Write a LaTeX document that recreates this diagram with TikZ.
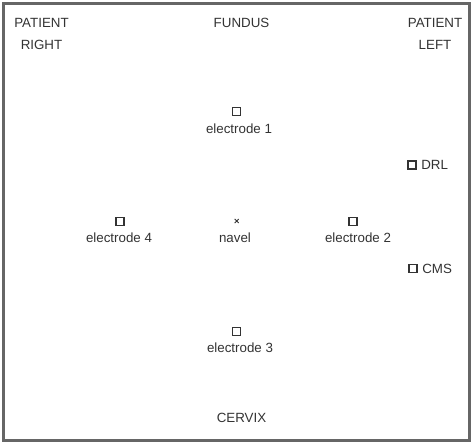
\documentclass[tikz,border=0pt]{standalone}
\usepackage{fontspec}
\setmainfont{Liberation Sans}
\begin{document}
\begin{tikzpicture}[x=0.75pt,y=-0.75pt,
  lbl/.style={inner sep=0pt,text=black!80,font=\fontsize{10}{12}\selectfont},
  elec/.style={draw=black!80,line width=0.8pt,minimum size=6pt,inner sep=0pt}]
\useasboundingbox (0,0) rectangle (474,445);
\fill[white] (0,0) rectangle (474,445);
\draw[black!60,line width=1.6pt] (3.5,3.5) rectangle (469.5,440.5);
% corner labels
\node[lbl] (prA) at (41.5,23) {PATIENT};
\node[lbl] (prB) at (41.5,45) {RIGHT};
\node[lbl] (plA) at (435,23) {PATIENT};
\node[lbl] (plB) at (435,45) {LEFT};
\node[lbl] (fundus) at (241.5,23) {FUNDUS};
\node[lbl] (cervix) at (241.5,418) {CERVIX};
% electrodes
\node[elec] (e1) at (236.7,111.7) {};
\node[lbl] (e1l) at (239,129) {electrode 1};
\node[elec] (e4) at (120,221.5) {};
\node[lbl] (e4l) at (119,238) {electrode 4};
\node[elec] (e2) at (353,221.5) {};
\node[lbl] (e2l) at (358,238) {electrode 2};
\node[elec] (e3) at (236.7,331.5) {};
\node[lbl] (e3l) at (240,348) {electrode 3};
% navel
\coordinate (nv) at (236.7,221);
\draw[black!80,line width=0.6pt] ([shift={(-2,-2)}]nv) -- ([shift={(2,2)}]nv) ([shift={(-2,2)}]nv) -- ([shift={(2,-2)}]nv);
\node[lbl] (nvl) at (235,238) {navel};
% DRL / CMS
\node[elec] (drl) at (412,165) {};
\node[lbl,anchor=west] (drll) at (421,165) {DRL};
\node[elec] (cms) at (413,268.5) {};
\node[lbl,anchor=west] (cmsl) at (422,268.5) {CMS};
\end{tikzpicture}
\end{document}
